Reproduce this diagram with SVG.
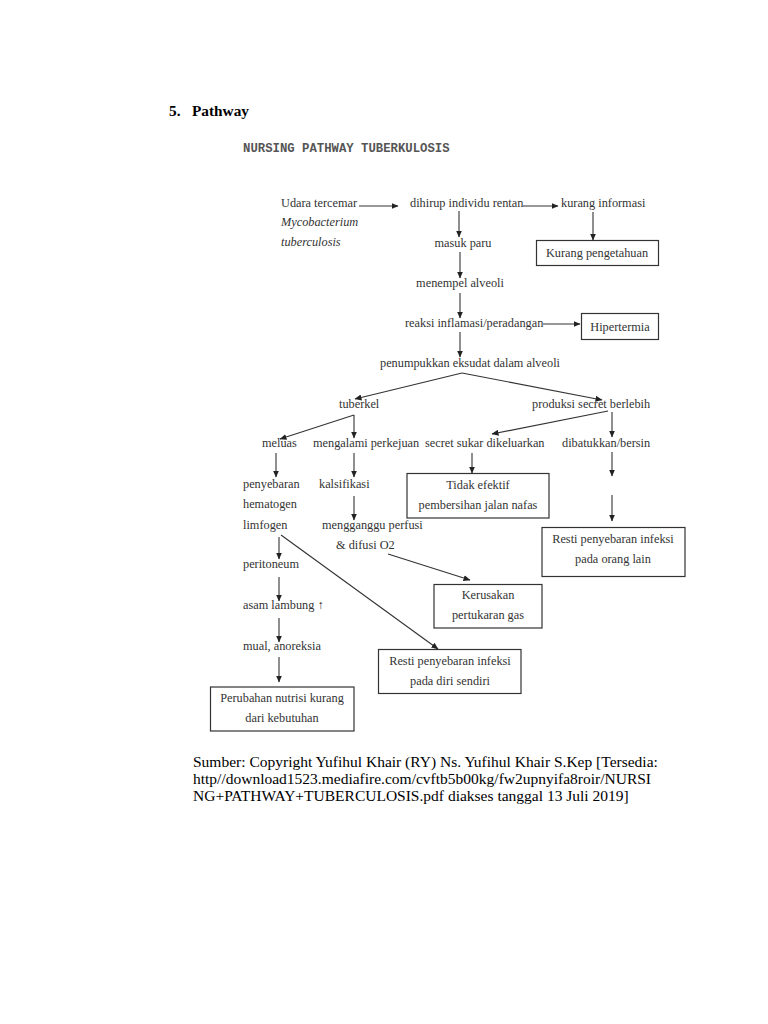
<svg xmlns="http://www.w3.org/2000/svg" width="768" height="1024" viewBox="0 0 768 1024">
<defs>
<marker id="ah" markerWidth="7" markerHeight="6" refX="6.5" refY="3" orient="auto" markerUnits="userSpaceOnUse">
<path d="M0,0 L7,3 L0,6 Z" fill="#222"/>
</marker>
<style>
.t{font-family:"Liberation Serif","Times New Roman",serif;font-size:12.3px;fill:#333}
.i{font-style:italic}
.m{text-anchor:middle}
.b{fill:#fff;stroke:#333;stroke-width:1.2}
.c line,.c path{stroke:#333;stroke-width:1.1;fill:none;marker-end:url(#ah)}
.s{font-family:"Liberation Serif","Times New Roman",serif;font-size:15.5px;fill:#000}
</style>
</defs>
<rect width="768" height="1024" fill="#fff"/>
<g id="heading">
<text x="169" y="116" font-family="Liberation Serif,serif" font-weight="bold" font-size="15.3" fill="#000">5.</text>
<text x="192" y="116" font-family="Liberation Serif,serif" font-weight="bold" font-size="15.3" fill="#000">Pathway</text>
<text x="243" y="152" font-family="Liberation Mono,Courier New,monospace" font-weight="bold" font-size="12.3" fill="#555">NURSING PATHWAY TUBERKULOSIS</text>
</g>
<g id="n_udara"><text class="t" x="281" y="207">Udara tercemar</text>
<text class="t i" x="281" y="226">Mycobacterium</text>
<text class="t i" x="281" y="246">tuberculosis</text></g>
<g id="n_dihirup"><text class="t" x="410" y="207">dihirup individu rentan</text></g>
<g id="n_kurinfo"><text class="t" x="561" y="207">kurang informasi</text></g>
<g id="n_kurpeng"><rect class="b" x="536.5" y="240.5" width="122" height="25"/><text class="t m" x="597" y="257">Kurang pengetahuan</text></g>
<g id="n_masuk"><text class="t m" x="463" y="247">masuk paru</text></g>
<g id="n_menempel"><text class="t m" x="460" y="287">menempel alveoli</text></g>
<g id="n_reaksi"><text class="t" x="405" y="327">reaksi inflamasi/peradangan</text></g>
<g id="n_hiper"><rect class="b" x="581.5" y="313.5" width="77" height="26"/><text class="t m" x="620" y="331">Hipertermia</text></g>
<g id="n_penumpukkan"><text class="t" x="380" y="367">penumpukkan eksudat dalam alveoli</text></g>
<g id="n_tuberkel"><text class="t" x="339" y="408">tuberkel</text></g>
<g id="n_produksi"><text class="t" x="532" y="408">produksi secret berlebih</text></g>
<g id="n_meluas"><text class="t" x="262" y="447">meluas</text></g>
<g id="n_perkejuan"><text class="t" x="313" y="447">mengalami perkejuan</text></g>
<g id="n_secret"><text class="t" x="425" y="447">secret sukar dikeluarkan</text></g>
<g id="n_dibatukkan"><text class="t" x="562" y="447">dibatukkan/bersin</text></g>
<g id="n_penyebaran"><text class="t" x="243" y="488">penyebaran</text>
<text class="t" x="243" y="508">hematogen</text>
<text class="t" x="243" y="529">limfogen</text></g>
<g id="n_kalsifikasi"><text class="t" x="319" y="488">kalsifikasi</text></g>
<g id="n_tidak"><rect class="b" x="407" y="473.5" width="142" height="44.5"/><text class="t m" x="478" y="489">Tidak efektif</text><text class="t m" x="478" y="509">pembersihan jalan nafas</text></g>
<g id="n_mengganggu"><text class="t" x="322" y="529">mengganggu perfusi</text>
<text class="t" x="336" y="549">&amp; difusi O2</text></g>
<g id="n_restilain"><rect class="b" x="542" y="527.5" width="143" height="49"/><text class="t m" x="613" y="543">Resti penyebaran infeksi</text><text class="t m" x="613" y="563">pada orang lain</text></g>
<g id="n_peritoneum"><text class="t" x="243" y="568">peritoneum</text></g>
<g id="n_kerusakan"><rect class="b" x="434" y="584.5" width="108" height="43.5"/><text class="t m" x="488" y="599">Kerusakan</text><text class="t m" x="488" y="619">pertukaran gas</text></g>
<g id="n_asam"><text class="t" x="243" y="609">asam lambung ↑</text></g>
<g id="n_mual"><text class="t" x="243" y="650">mual, anoreksia</text></g>
<g id="n_restidiri"><rect class="b" x="378.5" y="649.5" width="142.5" height="44"/><text class="t m" x="450" y="665">Resti penyebaran infeksi</text><text class="t m" x="450" y="685">pada diri sendiri</text></g>
<g id="n_perubahan"><rect class="b" x="210.5" y="687" width="143.5" height="44"/><text class="t m" x="282" y="702">Perubahan nutrisi kurang</text><text class="t m" x="282" y="722">dari kebutuhan</text></g>
<g class="c" id="connectors">
<line x1="359" y1="206" x2="398" y2="206"/>
<line x1="523" y1="206" x2="558" y2="206"/>
<line x1="459" y1="211" x2="459" y2="237"/>
<line x1="593" y1="212" x2="593" y2="240"/>
<line x1="460" y1="252" x2="460" y2="278"/>
<line x1="460" y1="293" x2="460" y2="318"/>
<line x1="543" y1="324" x2="580" y2="324"/>
<line x1="460" y1="332" x2="460" y2="357"/>
<line x1="462" y1="373" x2="355" y2="399"/>
<line x1="462" y1="373" x2="602" y2="400"/>
<line x1="354" y1="415" x2="280" y2="439"/>
<line x1="354" y1="415" x2="354" y2="438"/>
<line x1="608" y1="411" x2="492" y2="434"/>
<line x1="612" y1="412" x2="612" y2="437"/>
<line x1="276" y1="453" x2="276" y2="477"/>
<line x1="354" y1="453" x2="354" y2="477"/>
<line x1="472" y1="453" x2="472" y2="473"/>
<line x1="612" y1="452" x2="612" y2="476"/>
<line x1="354" y1="496" x2="354" y2="520"/>
<line x1="612" y1="495" x2="612" y2="521"/>
<line x1="388" y1="554" x2="470" y2="580"/>
<line x1="279" y1="537" x2="279" y2="559"/>
<line x1="281" y1="535" x2="438" y2="649"/>
<line x1="279" y1="577" x2="279" y2="601"/>
<line x1="279" y1="618" x2="279" y2="642"/>
<line x1="279" y1="657" x2="279" y2="682"/>
</g>
<g id="source">
<text class="s" x="193" y="767">Sumber: Copyright Yufihul Khair (RY) Ns. Yufihul Khair S.Kep [Tersedia:</text>
<text class="s" x="193" y="784">http//download1523.mediafire.com/cvftb5b00kg/fw2upnyifa8roir/NURSI</text>
<text class="s" x="193" y="801">NG+PATHWAY+TUBERCULOSIS.pdf diakses tanggal 13 Juli 2019]</text>
</g>
</svg>
